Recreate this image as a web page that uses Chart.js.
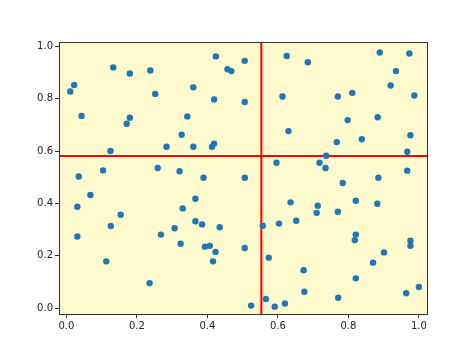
<!DOCTYPE html>
<html>
<head>
<meta charset="utf-8">
<script src="https://cdn.jsdelivr.net/npm/chart.js@4/dist/chart.umd.min.js"></script>
<style>
  html, body { margin: 0; padding: 0; background: #fff; }
  #wrap { width: 474px; height: 353px; }
</style>
</head>
<body>
<div id="wrap"><canvas id="scatterChart" width="474" height="353"></canvas></div>
<script>
var xValues = [0.011,0.022,0.043,0.133,0.180,0.238,0.252,0.180,0.171,0.125,
  0.327,0.343,0.284,0.360,0.360,0.424,0.419,0.413,0.419,0.457,
  0.468,0.506,0.506,0.104,0.259,0.321,0.035,0.389,0.506,0.068,
  0.031,0.366,0.330,0.154,0.126,0.366,0.385,0.435,0.307,0.031,
  0.268,0.324,0.393,0.407,0.423,0.416,0.113,0.236,0.506,0.625,
  0.685,0.889,0.973,0.935,0.920,0.987,0.613,0.770,0.811,0.883,
  0.798,0.630,0.767,0.838,0.976,0.967,0.737,0.596,0.718,0.735,
  0.967,0.784,0.885,0.636,0.713,0.710,0.770,0.821,0.882,0.557,
  0.603,0.652,0.821,0.818,0.976,0.976,0.901,0.574,0.870,0.673,
  0.821,0.675,0.771,0.964,1.000,0.566,0.524,0.591,0.620];
var yValues = [0.827,0.852,0.734,0.919,0.896,0.907,0.818,0.727,0.704,0.600,
  0.662,0.732,0.616,0.616,0.843,0.961,0.797,0.616,0.628,0.912,
  0.905,0.944,0.787,0.526,0.535,0.523,0.503,0.498,0.498,0.432,
  0.387,0.418,0.381,0.357,0.314,0.332,0.320,0.309,0.305,0.274,
  0.281,0.246,0.235,0.238,0.215,0.179,0.179,0.096,0.230,0.963,
  0.939,0.976,0.972,0.905,0.850,0.812,0.808,0.808,0.822,0.729,
  0.718,0.676,0.634,0.645,0.660,0.597,0.582,0.555,0.555,0.535,
  0.525,0.478,0.498,0.404,0.391,0.364,0.368,0.410,0.399,0.315,
  0.323,0.334,0.281,0.260,0.258,0.238,0.213,0.193,0.174,0.145,
  0.114,0.063,0.040,0.057,0.081,0.035,0.010,0.006,0.018];
var tickValues = [0, 0.2, 0.4, 0.6, 0.8, 1.0];
var splitX = 0.553;
var splitY = 0.581;
var xMin = -0.021, xMax = 1.023;
var yMin = -0.022, yMax = 1.016;

var points = xValues.map(function (x, i) { return {x: x, y: yValues[i]}; });

var plotBg = {
    id: 'plotBg',
    beforeDatasetsDraw: function (chart) {
        var a = chart.chartArea, c = chart.ctx;
        c.save();
        c.fillStyle = '#fffacd';
        c.fillRect(a.left, a.top, a.right - a.left, a.bottom - a.top);
        c.restore();
    },
    afterDraw: function (chart) {
        var a = chart.chartArea, c = chart.ctx;
        c.save();
        c.strokeStyle = '#333';
        c.lineWidth = 1;
        c.strokeRect(Math.round(a.left) + 0.5, Math.round(a.top) + 0.5,
            Math.round(a.right - a.left), Math.round(a.bottom - a.top));
        c.restore();
    }
};

function fixTicks(scale) {
    scale.ticks = tickValues.map(function (v) { return {value: v}; });
}

var ctx = document.getElementById('scatterChart');
var myChart = new Chart(ctx, {
    type: 'scatter',
    data: {
        datasets: [{
            label: 'points',
            data: points,
            backgroundColor: '#1f77b4',
            borderColor: '#1f77b4',
            pointRadius: 3.2,
            pointHoverRadius: 3.2,
            borderWidth: 0,
            order: 0
        }, {
            label: 'vline',
            type: 'line',
            data: [{x: splitX, y: yMin}, {x: splitX, y: yMax}],
            borderColor: '#ff0000',
            borderWidth: 2,
            pointRadius: 0,
            order: 1
        }, {
            label: 'hline',
            type: 'line',
            data: [{x: xMin, y: splitY}, {x: xMax, y: splitY}],
            borderColor: '#ff0000',
            borderWidth: 2,
            pointRadius: 0,
            order: 1
        }]
    },
    options: {
        responsive: false,
        animation: false,
        layout: {
            padding: {left: 0, right: 47, top: 42, bottom: 0}
        },
        plugins: {
            legend: {display: false},
            tooltip: {enabled: false}
        },
        scales: {
            x: {
                type: 'linear',
                min: xMin,
                max: xMax,
                afterBuildTicks: fixTicks,
                afterFit: function (scale) { scale.height = 39; },
                grid: {
                    drawOnChartArea: false,
                    drawTicks: true,
                    tickLength: 4,
                    color: '#333'
                },
                border: {display: false},
                ticks: {
                    color: '#222',
                    padding: 2,
                    maxRotation: 0,
                    font: {family: 'DejaVu Sans', size: 10},
                    callback: function (v) { return v.toFixed(1); }
                }
            },
            y: {
                type: 'linear',
                min: yMin,
                max: yMax,
                afterBuildTicks: fixTicks,
                afterFit: function (scale) { scale.width = 59; },
                grid: {
                    drawOnChartArea: false,
                    drawTicks: true,
                    tickLength: 4,
                    color: '#333'
                },
                border: {display: false},
                ticks: {
                    color: '#222',
                    padding: 2,
                    font: {family: 'DejaVu Sans', size: 10},
                    callback: function (v) { return v.toFixed(1); }
                }
            }
        }
    },
    plugins: [plotBg]
});
</script>
</body>
</html>
